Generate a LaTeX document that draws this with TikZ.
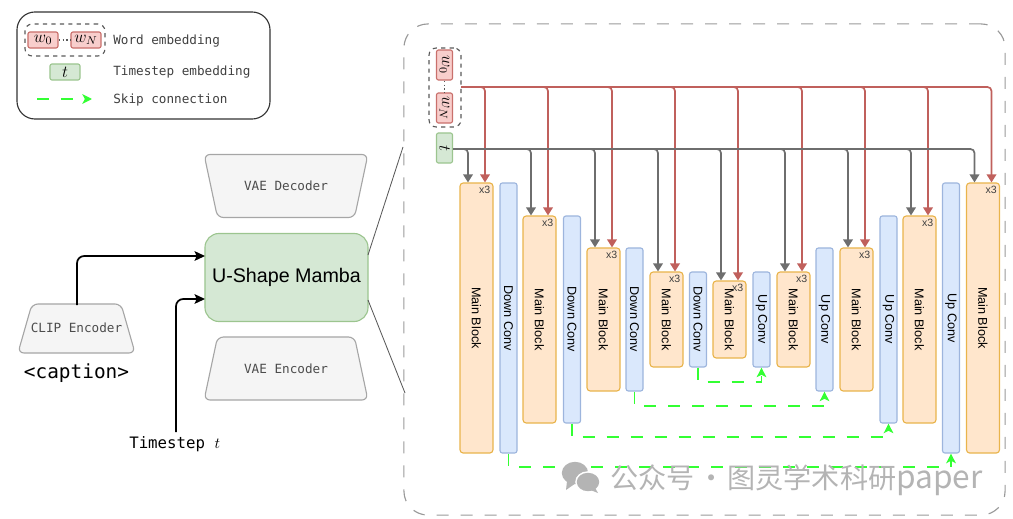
\documentclass[tikz,border=0pt]{standalone}
\usepackage{fontspec}
\setmainfont{Liberation Sans}
\setmonofont{DejaVu Sans Mono}
\newfontfamily\cjkmark{Noto Sans CJK SC}
\usepackage{graphicx}
\usetikzlibrary{arrows.meta,shapes.geometric}
\definecolor{wfill}{HTML}{F8CECC}
\definecolor{wline}{HTML}{C9706C}
\definecolor{tfill}{HTML}{D5E8D4}
\definecolor{tline}{HTML}{9CC58F}
\definecolor{mfill}{HTML}{FFE6CC}
\definecolor{mline}{HTML}{E9B44C}
\definecolor{cfill}{HTML}{DAE8FC}
\definecolor{cline}{HTML}{9DB5DD}
\definecolor{redarr}{HTML}{C0605C}
\definecolor{grayarr}{HTML}{6E6E6E}
\definecolor{skipgreen}{HTML}{33FF33}
\definecolor{markgray}{HTML}{B4B4B4}
\begin{document}
\begin{tikzpicture}[x=0.025cm,y=-0.025cm]
\tikzstyle{mainb}=[rectangle,draw=mline,fill=mfill,thick,rounded corners=0.08cm,minimum width=0.825cm,inner sep=0pt,font=\fontsize{9}{10}\selectfont]
\tikzstyle{conv}=[rectangle,draw=cline,fill=cfill,thick,rounded corners=0.06cm,minimum width=0.425cm,inner sep=0pt,font=\fontsize{9}{10}\selectfont]
\tikzstyle{xthree}=[inner sep=2.2pt,text=black!75,font=\fontsize{7.5}{8}\selectfont]
\tikzstyle{wbox}=[rectangle,draw=wline,fill=wfill,thick,rounded corners=0.05cm,minimum width=0.75cm,minimum height=0.4cm,inner sep=0pt,font=\fontsize{11.5}{12}\selectfont]
\tikzstyle{tbox}=[wbox,draw=tline,fill=tfill]
\tikzstyle{group}=[rectangle,draw=black!65,dashed,thick,rounded corners=0.18cm,inner sep=0pt]
\tikzstyle{legtext}=[anchor=west,inner sep=0pt,text=black!75,font=\ttfamily\fontsize{9}{10}\selectfont]
\tikzstyle{vae}=[trapezium,draw=black!35,fill=black!4,thick,rounded corners=0.15cm,inner sep=0pt,outer sep=0pt,text=black!70,font=\ttfamily\fontsize{9}{10}\selectfont]
\tikzstyle{vaebig}=[vae,trapezium angle=78,text height=0.905cm,text depth=0.67cm]
\tikzstyle{clipbox}=[vae,trapezium angle=74,text height=0.715cm,text depth=0.51cm]
\tikzstyle{redwire}=[draw=redarr,line width=1.2pt,rounded corners=0.1cm,-{Triangle[length=0.2cm,width=0.24cm]}]
\tikzstyle{graywire}=[draw=grayarr,line width=1.2pt,rounded corners=0.1cm,-{Triangle[length=0.2cm,width=0.24cm]}]
\tikzstyle{skip}=[draw=skipgreen,line width=1.2pt,dash pattern=on 0.3cm off 0.3cm,-{Stealth[length=0.24cm,width=0.24cm,inset=0.06cm]}]
\tikzstyle{blackwire}=[draw=black,line width=1.2pt,rounded corners=0.18cm,-{Stealth[length=0.26cm,width=0.24cm,inset=0.05cm]}]
\useasboundingbox (0,0) rectangle (1013,519);
\node [rectangle,draw=black!80,thick,rounded corners=0.45cm,minimum width=6.325cm,minimum height=2.675cm] (legend) at (143.5,65.5) {};
\node [group,minimum width=2cm,minimum height=0.8cm] (leggroup) at (65,40) {};
\node [wbox] (legw0) at (43,40) {$w_0$};
\node [wbox] (legwN) at (86,40) {$w_N$};
\draw [black!65,dotted,thick] (legw0) -- (legwN);
\node [tbox] (legt) at (65,72) {$t$};
\coordinate (legskipa) at (37,99);
\coordinate (legskipb) at (92,99);
\draw [skip] (legskipa) -- (legskipb);
\node [legtext] (legword) at (113,41) {Word embedding};
\node [legtext] (legtime) at (113,72) {Timestep embedding};
\node [legtext] (legskip) at (113,100) {Skip connection};
\node [vaebig,shape border rotate=180] (decoder) at (286,186) {\makebox[3.425cm]{VAE Decoder}};
\node [vaebig] (encoder) at (286,368.5) {\makebox[3.425cm]{VAE Encoder}};
\node [clipbox] (clip) at (76.5,328.5) {\makebox[2.225cm]{CLIP Encoder}};
\node [rectangle,draw=tline,fill=tfill,thick,rounded corners=0.35cm,minimum width=4.075cm,minimum height=2.2cm,font=\fontsize{14}{16}\selectfont] (mamba) at (286.5,277.5) {U-Shape Mamba};
\node [inner sep=0pt,font=\ttfamily\fontsize{13.8}{15}\selectfont] (caption) at (76.5,373.5) {<caption>};
\node [inner sep=0pt,anchor=west,font=\ttfamily\fontsize{11.2}{13}\selectfont] (timestep) at (129,444.5) {Timestep $t$};
\coordinate (capup) at (77,305);
\coordinate (mamtop) at (205,256);
\coordinate (timeup) at (176,432);
\coordinate (mambot) at (205,299);
\draw [blackwire] (capup) |- (mamtop);
\draw [blackwire] (timeup) |- (mambot);
\node [rectangle,draw=black!40,thick,dash pattern=on 0.3cm off 0.3cm,rounded corners=0.6cm,minimum width=15.025cm,minimum height=12.275cm] (unet) at (704.5,269.5) {};
\coordinate (zooma) at (368,255);
\coordinate (zoomb) at (368,300);
\coordinate (zoomc) at (403,147);
\coordinate (zoomd) at (405,393);
\draw [black!65,semithick] (zooma) -- (zoomc);
\draw [black!65,semithick] (zoomb) -- (zoomd);
\node [group,minimum width=0.8cm,minimum height=1.975cm] (wgroup) at (445,87.5) {};
\node [wbox,rotate=-90] (w0) at (444.5,65) {$w_0$};
\node [wbox,rotate=-90] (wN) at (444.5,108) {$w_N$};
\draw [black!65,dotted,thick] (w0) -- (wN);
\node [tbox,rotate=-90] (t) at (444.5,148) {$t$};
\node [mainb,minimum height=6.75cm] (m1) at (476.5,318) {\rotatebox{-90}{Main Block}};
\node [conv,minimum height=6.75cm] (d1) at (508.5,318) {\rotatebox{-90}{Down Conv}};
\node [mainb,minimum height=5.175cm] (m2) at (539.5,319.5) {\rotatebox{-90}{Main Block}};
\node [conv,minimum height=5.175cm] (d2) at (572,319.5) {\rotatebox{-90}{Down Conv}};
\node [mainb,minimum height=3.575cm] (m3) at (603.5,319.5) {\rotatebox{-90}{Main Block}};
\node [conv,minimum height=3.575cm] (d3) at (634.5,319.5) {\rotatebox{-90}{Down Conv}};
\node [mainb,minimum height=2.375cm] (m4) at (666.5,319.5) {\rotatebox{-90}{Main Block}};
\node [conv,minimum height=2.375cm] (d4) at (698,319.5) {\rotatebox{-90}{Down Conv}};
\node [mainb,minimum height=1.925cm] (m5) at (729.5,319.5) {\rotatebox{-90}{Main Block}};
\node [conv,minimum height=2.375cm] (u1) at (761.5,319.5) {\rotatebox{-90}{Up Conv}};
\node [mainb,minimum height=2.375cm] (m6) at (793.5,319.5) {\rotatebox{-90}{Main Block}};
\node [conv,minimum height=3.575cm] (u2) at (824.5,319.5) {\rotatebox{-90}{Up Conv}};
\node [mainb,minimum height=3.575cm] (m7) at (856.5,319.5) {\rotatebox{-90}{Main Block}};
\node [conv,minimum height=5.175cm] (u3) at (888.5,319.5) {\rotatebox{-90}{Up Conv}};
\node [mainb,minimum height=5.175cm] (m8) at (919.5,319.5) {\rotatebox{-90}{Main Block}};
\node [conv,minimum height=6.75cm] (u4) at (951,318) {\rotatebox{-90}{Up Conv}};
\node [mainb,minimum height=6.75cm] (m9) at (983,318) {\rotatebox{-90}{Main Block}};
\foreach \b in {m1,m2,m3,m4,m5,m6,m7,m8,m9} {
  \node [xthree,anchor=north east] (x\b) at (\b.north east) {x3};
}
\coordinate (wbus) at (461,87);
\coordinate (tbus) at (453,149);
\foreach \b in {m1,m2,m3,m4,m5,m6,m7,m8,m9} {
  \draw [redwire] (wbus) -| ([xshift=0.2125cm]\b.north);
}
\foreach \b in {m1,m2,m3,m4,m5,m6,m7,m8,m9} {
  \draw [graywire] (tbus) -| ([xshift=-0.2125cm]\b.north);
}
\coordinate (s4) at (0,382);
\coordinate (s3) at (0,406);
\coordinate (s2) at (0,437);
\coordinate (s1) at (0,467);
\draw [skip] (d4.south) -- (d4.south |- s4) -- (u1.south |- s4) -- (u1.south);
\draw [skip] (d3.south) -- (d3.south |- s3) -- (u2.south |- s3) -- (u2.south);
\draw [skip] (d2.south) -- (d2.south |- s2) -- (u3.south |- s2) -- (u3.south);
\draw [skip] (d1.south) -- (d1.south |- s1) -- (u4.south |- s1) -- (u4.south);
\fill [markgray] (575,473) ellipse (0.33cm and 0.28cm);
\fill [markgray] (567,481) -- (566,490) -- (576,483) -- cycle;
\fill [white] (588,482) ellipse (0.32cm and 0.27cm);
\fill [markgray] (588,482) ellipse (0.28cm and 0.23cm);
\fill [markgray] (594,486) -- (598,493) -- (588,489) -- cycle;
\node [anchor=west,inner sep=0pt,text=markgray,font=\cjkmark\fontsize{20}{24}\selectfont] (mark) at (610,480) {公众号\hspace{1.7pt}·\hspace{1.7pt}图灵学术科研{\fontsize{22.5}{24}\selectfont paper}};
\end{tikzpicture}
\end{document}
